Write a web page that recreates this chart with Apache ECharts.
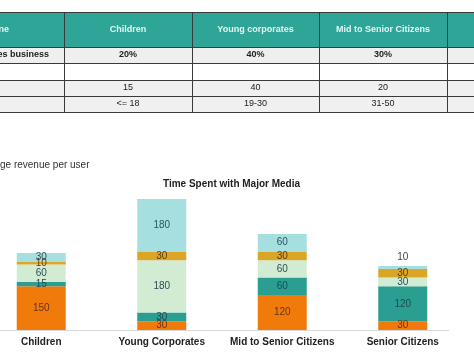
<!DOCTYPE html>
<html>
<head>
<meta charset="utf-8">
<script src="https://cdn.jsdelivr.net/npm/echarts@6/dist/echarts.min.js"></script>
<style>
html,body{margin:0;padding:0;background:#fff;}
#c{width:474px;height:355px;}
</style>
</head>
<body>
<div id="c"></div>
<script>
// ---- data ----
var categories = ['Children', 'Young Corporates', 'Mid to Senior Citizens', 'Senior Citizens'];
var seriesNames = ['S1', 'S2', 'S3', 'S4', 'S5'];
var orangeVals = [150, 30, 120, 30];
var tealVals = [15, 30, 60, 120];
var greenVals = [60, 180, 60, 30];
var goldVals = [10, 30, 30, 30];
var cyanVals = [30, 180, 60, 10];

var tableHeader = ['ne', 'Children', 'Young corporates', 'Mid to Senior Citizens', ''];
var shareRow = ['es business', '20%', '40%', '30%', ''];
var emptyRow = ['', '', '', '', ''];
var arpuRow = ['', '15', '40', '20', ''];
var ageRow = ['', '<= 18', '19-30', '31-50', ''];
var sideNote = 'ge revenue per user';
var chartTitle = 'Time Spent with Major Media';

// ---- layout / style ----
var FONT = 'Liberation Sans, Arial, sans-serif';
var colEdges = [-64, 64, 192, 319, 447, 575];
var rowEdges = [12, 47, 63, 80, 96, 112];
var rowBg = ['#2ea597', '#efefef', '#ffffff', '#f0f0f0', '#f0f0f0'];
var rows = [tableHeader, shareRow, emptyRow, arpuRow, ageRow];

var graphics = [];
for (var r = 0; r < rows.length; r++) {
  graphics.push({type:'rect', silent:true, shape:{x:colEdges[0], y:rowEdges[r], width:colEdges[colEdges.length-1]-colEdges[0], height:rowEdges[r+1]-rowEdges[r]}, style:{fill:rowBg[r]}});
}
for (var r = 0; r < rowEdges.length; r++) {
  graphics.push({type:'line', silent:true, shape:{x1:colEdges[0], y1:rowEdges[r]+0.5, x2:colEdges[colEdges.length-1], y2:rowEdges[r]+0.5}, style:{stroke:'#3a3a3a', lineWidth:1}});
}
for (var c = 1; c < colEdges.length-1; c++) {
  graphics.push({type:'line', silent:true, shape:{x1:colEdges[c]+0.5, y1:rowEdges[0], x2:colEdges[c]+0.5, y2:rowEdges[rowEdges.length-1]}, style:{stroke:'#3a3a3a', lineWidth:1}});
}
for (var r = 0; r < rows.length; r++) {
  for (var c = 0; c < rows[r].length; c++) {
    var t = rows[r][c];
    if (!t) continue;
    var cy = (rowEdges[r] + rowEdges[r+1]) / 2;
    var isHeader = r === 0;
    var bold = isHeader || r === 1;
    var x, align;
    if (c === 0) { x = (r === 0) ? 9 : 49; align = 'right'; }
    else { x = (colEdges[c] + colEdges[c+1]) / 2; align = 'center'; }
    graphics.push({type:'text', silent:true, x:x, y:cy, style:{text:t, textAlign:align, textVerticalAlign:'middle', fontFamily:FONT, fontSize:9, fontWeight: bold ? 'bold' : 'normal', fill: isHeader ? '#e3f6f3' : '#222'}});
  }
}
graphics.push({type:'text', silent:true, x:0, y:165, style:{text:sideNote, textVerticalAlign:'middle', fontFamily:FONT, fontSize:10, fill:'#333'}});
// category axis baseline (plot-area floor)
graphics.push({type:'line', silent:true, z:-1, shape:{x1:0, y1:330.5, x2:449, y2:330.5}, style:{stroke:'#d9d9d9', lineWidth:1}});

var colors = ['#f07a0a', '#2b9e92', '#d2ecd4', '#dba626', '#a6dfdf'];
var labelColors = ['#6a3416', '#1e4a52', '#2a4f55', '#5a3a10', '#2a5560'];
var vals = [orangeVals, tealVals, greenVals, goldVals, cyanVals];

var series = vals.map(function (v, i) {
  return {
    name: seriesNames[i], type: 'bar', stack: 'a', barWidth: 49,
    itemStyle: {color: colors[i]},
    label: {show: true, position: 'inside', fontSize: 10, fontFamily:FONT, color: labelColors[i]},
    data: v.map(function (d, j) {
      if (i === 4 && j === 3) return {value: d, label: {position: 'top', distance: 4, color: '#444'}};
      return d;
    })
  };
});

var chart = echarts.init(document.getElementById('c'), null, {renderer:'canvas'});
chart.setOption({
  animation: false,
  title: {text: chartTitle, left: 163, top: 179, padding: 0, textStyle:{fontSize:10, fontWeight:'bold', color:'#222', fontFamily:FONT}},
  grid: {left: -19, right: 11, top: 184.5, bottom: 25, containLabel: false, outerBoundsMode: 'none'},
  xAxis: {type:'category', data: categories, axisTick:{show:false},
    axisLine:{show:false},
    axisLabel:{interval:0, margin:7, fontSize:10, fontWeight:'bold', color:'#222', fontFamily:FONT}},
  yAxis: {type:'value', min:0, max:500, show:false},
  series: series,
  graphic: graphics
});
</script>
</body>
</html>
